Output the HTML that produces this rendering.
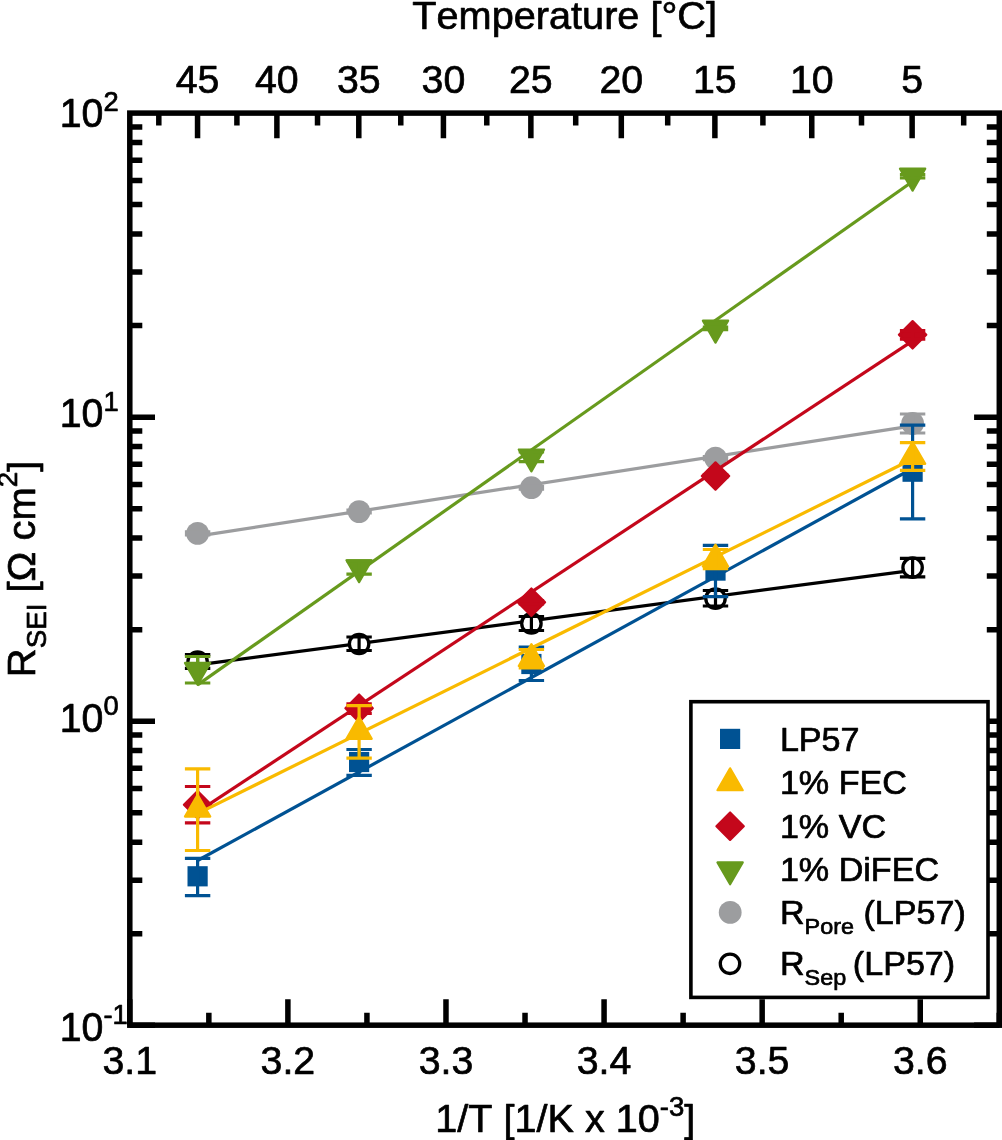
<!DOCTYPE html>
<html lang="en"><head><meta charset="utf-8"><title>R_SEI Arrhenius plot</title>
<style>html,body{margin:0;padding:0;background:#fff}svg{display:block}</style></head><body>
<svg width="1002" height="1140" viewBox="0 0 1002 1140" font-family="Liberation Sans, Arial, Helvetica, sans-serif" fill="#000">
<style>text{stroke:#000;stroke-width:0.7px;stroke-linejoin:round;font-kerning:none}</style>
<rect width="1002" height="1140" fill="#fff"/>
<path d="M129.8 1025.19v-26M208.84 1025.19v-12.5M287.89 1025.19v-26M366.93 1025.19v-12.5M445.98 1025.19v-26M525.03 1025.19v-12.5M604.07 1025.19v-26M683.12 1025.19v-12.5M762.16 1025.19v-26M841.21 1025.19v-12.5M920.25 1025.19v-26M999.3 1025.19v-12.5M158.81 113.1v12.5M197.55 113.1v25.2M236.91 113.1v12.5M276.89 113.1v25.2M317.52 113.1v12.5M358.8 113.1v25.2M400.77 113.1v12.5M443.42 113.1v25.2M486.78 113.1v12.5M530.87 113.1v25.2M575.71 113.1v12.5M621.31 113.1v25.2M667.7 113.1v12.5M714.89 113.1v25.2M762.91 113.1v12.5M811.77 113.1v25.2M861.5 113.1v12.5M912.13 113.1v25.2M963.68 113.1v12.5M129.8 1025.19h25.2M999.3 1025.19h-25.2M129.8 933.67h12.5M999.3 933.67h-12.5M129.8 880.13h12.5M999.3 880.13h-12.5M129.8 842.15h12.5M999.3 842.15h-12.5M129.8 812.68h12.5M999.3 812.68h-12.5M129.8 788.61h12.5M999.3 788.61h-12.5M129.8 768.25h12.5M999.3 768.25h-12.5M129.8 750.62h12.5M999.3 750.62h-12.5M129.8 735.07h12.5M999.3 735.07h-12.5M129.8 721.16h25.2M999.3 721.16h-25.2M129.8 629.64h12.5M999.3 629.64h-12.5M129.8 576.1h12.5M999.3 576.1h-12.5M129.8 538.12h12.5M999.3 538.12h-12.5M129.8 508.65h12.5M999.3 508.65h-12.5M129.8 484.58h12.5M999.3 484.58h-12.5M129.8 464.22h12.5M999.3 464.22h-12.5M129.8 446.59h12.5M999.3 446.59h-12.5M129.8 431.04h12.5M999.3 431.04h-12.5M129.8 417.13h25.2M999.3 417.13h-25.2M129.8 325.61h12.5M999.3 325.61h-12.5M129.8 272.07h12.5M999.3 272.07h-12.5M129.8 234.09h12.5M999.3 234.09h-12.5M129.8 204.62h12.5M999.3 204.62h-12.5M129.8 180.55h12.5M999.3 180.55h-12.5M129.8 160.19h12.5M999.3 160.19h-12.5M129.8 142.56h12.5M999.3 142.56h-12.5M129.8 127.01h12.5M999.3 127.01h-12.5" fill="none" stroke="#000" stroke-width="5.5"/>
<g>
<line x1="197.6" y1="536.1" x2="912.6" y2="425.9" stroke="#9c9d9f" stroke-width="3.2"/>
<circle cx="197.6" cy="533.4" r="11.4" fill="#9c9d9f"/>
<path d="M197.6 531.8V535M184.9 531.8H210.3M184.9 535H210.3" fill="none" stroke="#9c9d9f" stroke-width="3.2"/>
<circle cx="359.1" cy="511.6" r="11.4" fill="#9c9d9f"/>
<path d="M359.1 510.2V513M346.4 510.2H371.8M346.4 513H371.8" fill="none" stroke="#9c9d9f" stroke-width="3.2"/>
<circle cx="531.4" cy="487.7" r="11.4" fill="#9c9d9f"/>
<path d="M531.4 486.3V489.1M518.7 486.3H544.1M518.7 489.1H544.1" fill="none" stroke="#9c9d9f" stroke-width="3.2"/>
<circle cx="715.5" cy="458.1" r="11.4" fill="#9c9d9f"/>
<path d="M715.5 456.6V459.6M702.8 456.6H728.2M702.8 459.6H728.2" fill="none" stroke="#9c9d9f" stroke-width="3.2"/>
<circle cx="912.6" cy="423.4" r="11.4" fill="#9c9d9f"/>
<path d="M912.6 414V433M899.9 414H925.3M899.9 433H925.3" fill="none" stroke="#9c9d9f" stroke-width="3.2"/>
</g>
<g>
<line x1="197.6" y1="664.9" x2="912.6" y2="570.3" stroke="#000000" stroke-width="3.2"/>
<circle cx="197.6" cy="661.5" r="9.7" fill="#fff" stroke="#000000" stroke-width="3.3"/>
<path d="M197.6 654.6V668.4M184.9 654.6H210.3M184.9 668.4H210.3" fill="none" stroke="#000000" stroke-width="3.2"/>
<circle cx="359.1" cy="644" r="9.7" fill="#fff" stroke="#000000" stroke-width="3.3"/>
<path d="M359.1 637V650.5M346.4 637H371.8M346.4 650.5H371.8" fill="none" stroke="#000000" stroke-width="3.2"/>
<circle cx="531.4" cy="623.4" r="9.7" fill="#fff" stroke="#000000" stroke-width="3.3"/>
<path d="M531.4 616.5V630.5M518.7 616.5H544.1M518.7 630.5H544.1" fill="none" stroke="#000000" stroke-width="3.2"/>
<circle cx="715.5" cy="598.6" r="9.7" fill="#fff" stroke="#000000" stroke-width="3.3"/>
<path d="M715.5 590.5V606M702.8 590.5H728.2M702.8 606H728.2" fill="none" stroke="#000000" stroke-width="3.2"/>
<circle cx="912.6" cy="567.6" r="9.7" fill="#fff" stroke="#000000" stroke-width="3.3"/>
<path d="M912.6 558.4V576.8M899.9 558.4H925.3M899.9 576.8H925.3" fill="none" stroke="#000000" stroke-width="3.2"/>
</g>
<g>
<line x1="197.6" y1="860.5" x2="912.6" y2="468.5" stroke="#005293" stroke-width="3.2"/>
<rect x="187.5" y="866.2" width="20.2" height="20.2" fill="#005293"/>
<path d="M197.6 858.4V895.6M184.9 858.4H210.3M184.9 895.6H210.3" fill="none" stroke="#005293" stroke-width="3.2"/>
<rect x="349" y="751.9" width="20.2" height="20.2" fill="#005293"/>
<path d="M359.1 749.5V775.3M346.4 749.5H371.8M346.4 775.3H371.8" fill="none" stroke="#005293" stroke-width="3.2"/>
<rect x="521.3" y="653.9" width="20.2" height="20.2" fill="#005293"/>
<path d="M531.4 647.2V680.5M518.7 647.2H544.1M518.7 680.5H544.1" fill="none" stroke="#005293" stroke-width="3.2"/>
<rect x="705.4" y="560.5" width="20.2" height="20.2" fill="#005293"/>
<path d="M715.5 545.4V596.7M702.8 545.4H728.2M702.8 596.7H728.2" fill="none" stroke="#005293" stroke-width="3.2"/>
<rect x="902.5" y="461.6" width="20.2" height="20.2" fill="#005293"/>
<path d="M912.6 425.1V518.9M899.9 425.1H925.3M899.9 518.9H925.3" fill="none" stroke="#005293" stroke-width="3.2"/>
</g>
<g>
<line x1="197.6" y1="684.9" x2="912.6" y2="181.5" stroke="#679a1d" stroke-width="3.2"/>
<polygon points="184.95,662.9 210.25,662.9 197.6,684.8" fill="#679a1d" stroke="#679a1d" stroke-width="2.2" stroke-linejoin="round"/>
<path d="M197.6 656.5V683M184.9 656.5H210.3M184.9 683H210.3" fill="none" stroke="#679a1d" stroke-width="3.2"/>
<polygon points="346.45,560.3 371.75,560.3 359.1,582.2" fill="#679a1d" stroke="#679a1d" stroke-width="2.2" stroke-linejoin="round"/>
<path d="M359.1 560.8V574.2M346.4 560.8H371.8M346.4 574.2H371.8" fill="none" stroke="#679a1d" stroke-width="3.2"/>
<polygon points="518.75,449.5 544.05,449.5 531.4,471.4" fill="#679a1d" stroke="#679a1d" stroke-width="2.2" stroke-linejoin="round"/>
<path d="M531.4 452V461.6M518.7 452H544.1M518.7 461.6H544.1" fill="none" stroke="#679a1d" stroke-width="3.2"/>
<polygon points="702.85,320.7 728.15,320.7 715.5,342.6" fill="#679a1d" stroke="#679a1d" stroke-width="2.2" stroke-linejoin="round"/>
<path d="M715.5 327V329.6M702.8 327H728.2M702.8 329.6H728.2" fill="none" stroke="#679a1d" stroke-width="3.2"/>
<polygon points="899.95,168.7 925.25,168.7 912.6,190.6" fill="#679a1d" stroke="#679a1d" stroke-width="2.2" stroke-linejoin="round"/>
<path d="M912.6 174.6V178M899.9 174.6H925.3M899.9 178H925.3" fill="none" stroke="#679a1d" stroke-width="3.2"/>
</g>
<g>
<line x1="197.6" y1="811.9" x2="912.6" y2="340.9" stroke="#c4071b" stroke-width="3.2"/>
<polygon points="197.6,791.1 211.3,804.8 197.6,818.5 183.9,804.8" fill="#c4071b" stroke="#c4071b" stroke-width="2.2" stroke-linejoin="round"/>
<path d="M197.6 786.5V822.8M184.9 786.5H210.3M184.9 822.8H210.3" fill="none" stroke="#c4071b" stroke-width="3.2"/>
<polygon points="359.1,694.5 372.8,708.2 359.1,721.9 345.4,708.2" fill="#c4071b" stroke="#c4071b" stroke-width="2.2" stroke-linejoin="round"/>
<path d="M359.1 703.8V713.4M346.4 703.8H371.8M346.4 713.4H371.8" fill="none" stroke="#c4071b" stroke-width="3.2"/>
<polygon points="531.4,588.5 545.1,602.2 531.4,615.9 517.7,602.2" fill="#c4071b" stroke="#c4071b" stroke-width="2.2" stroke-linejoin="round"/>
<path d="M531.4 600.5V604M518.7 600.5H544.1M518.7 604H544.1" fill="none" stroke="#c4071b" stroke-width="3.2"/>
<polygon points="715.5,462.3 729.2,476 715.5,489.7 701.8,476" fill="#c4071b" stroke="#c4071b" stroke-width="2.2" stroke-linejoin="round"/>
<path d="M715.5 474.5V477.5M702.8 474.5H728.2M702.8 477.5H728.2" fill="none" stroke="#c4071b" stroke-width="3.2"/>
<polygon points="912.6,321.1 926.3,334.8 912.6,348.5 898.9,334.8" fill="#c4071b" stroke="#c4071b" stroke-width="2.2" stroke-linejoin="round"/>
<path d="M912.6 330.6V339.1M899.9 330.6H925.3M899.9 339.1H925.3" fill="none" stroke="#c4071b" stroke-width="3.2"/>
</g>
<g>
<line x1="197.6" y1="813.6" x2="912.6" y2="459" stroke="#f9ba00" stroke-width="3.2"/>
<polygon points="197.6,794.7 210.25,816.6 184.95,816.6" fill="#f9ba00" stroke="#f9ba00" stroke-width="2.2" stroke-linejoin="round"/>
<path d="M197.6 768.9V850.5M184.9 768.9H210.3M184.9 850.5H210.3" fill="none" stroke="#f9ba00" stroke-width="3.2"/>
<polygon points="359.1,716.9 371.75,738.8 346.45,738.8" fill="#f9ba00" stroke="#f9ba00" stroke-width="2.2" stroke-linejoin="round"/>
<path d="M359.1 705.6V758.2M346.4 705.6H371.8M346.4 758.2H371.8" fill="none" stroke="#f9ba00" stroke-width="3.2"/>
<polygon points="531.4,644.1 544.05,666 518.75,666" fill="#f9ba00" stroke="#f9ba00" stroke-width="2.2" stroke-linejoin="round"/>
<path d="M531.4 649.5V668M518.7 649.5H544.1M518.7 668H544.1" fill="none" stroke="#f9ba00" stroke-width="3.2"/>
<polygon points="715.5,544.6 728.15,566.5 702.85,566.5" fill="#f9ba00" stroke="#f9ba00" stroke-width="2.2" stroke-linejoin="round"/>
<path d="M715.5 549.5V568.6M702.8 549.5H728.2M702.8 568.6H728.2" fill="none" stroke="#f9ba00" stroke-width="3.2"/>
<polygon points="912.6,442 925.25,463.9 899.95,463.9" fill="#f9ba00" stroke="#f9ba00" stroke-width="2.2" stroke-linejoin="round"/>
<path d="M912.6 442.6V470.4M899.9 442.6H925.3M899.9 470.4H925.3" fill="none" stroke="#f9ba00" stroke-width="3.2"/>
</g>
<rect x="690.9" y="701.7" width="297.1" height="295.7" fill="#fff" stroke="#000" stroke-width="3.6"/>
<rect x="720" y="728.8" width="20.2" height="20.2" fill="#005293"/>
<polygon points="730.1,768.3 742.75,790.2 717.45,790.2" fill="#f9ba00" stroke="#f9ba00" stroke-width="2.2" stroke-linejoin="round"/>
<polygon points="730.1,812.5 743.8,826.2 730.1,839.9 716.4,826.2" fill="#c4071b" stroke="#c4071b" stroke-width="2.2" stroke-linejoin="round"/>
<polygon points="717.45,862.4 742.75,862.4 730.1,884.3" fill="#679a1d" stroke="#679a1d" stroke-width="2.2" stroke-linejoin="round"/>
<circle cx="730.2" cy="912.4" r="11.4" fill="#9c9d9f"/>
<circle cx="730" cy="963.8" r="9.7" fill="#fff" stroke="#000000" stroke-width="3.3"/>
<g font-size="32.8">
<text transform="translate(779.9 750.9) scale(1.04 1)">LP57</text>
<text transform="translate(779.9 794.2) scale(1.04 1)">1% FEC</text>
<text transform="translate(779.9 837.5) scale(1.04 1)">1% VC</text>
<text transform="translate(779.9 880.8) scale(1.04 1)">1% DiFEC</text>
<text transform="translate(779.9 924.0) scale(1.04 1)">R<tspan font-size="22.5" dy="9.6">Pore</tspan><tspan dy="-9.6" dx="0"> (LP57)</tspan></text>
<text transform="translate(779.9 975.3) scale(1.04 1)">R<tspan font-size="22.5" dy="9.6">Sep</tspan><tspan dy="-9.6" dx="-2.7"> (LP57)</tspan></text>
</g>
<rect x="129.8" y="113.1" width="869.5" height="912.09" fill="none" stroke="#000" stroke-width="5.5"/>
<g font-size="39.3" text-anchor="middle">
<text x="129.8" y="1073.6">3.1</text>
<text x="287.89" y="1073.6">3.2</text>
<text x="445.98" y="1073.6">3.3</text>
<text x="604.07" y="1073.6">3.4</text>
<text x="762.16" y="1073.6">3.5</text>
<text x="920.25" y="1073.6">3.6</text>
<text x="197.55" y="93.2">45</text>
<text x="276.89" y="93.2">40</text>
<text x="358.8" y="93.2">35</text>
<text x="443.42" y="93.2">30</text>
<text x="530.87" y="93.2">25</text>
<text x="621.31" y="93.2">20</text>
<text x="714.89" y="93.2">15</text>
<text x="811.77" y="93.2">10</text>
<text x="912.13" y="93.2">5</text>
</g>
<g font-size="39.3">
<text transform="translate(59.7 127.3) scale(1 1.04)">10<tspan font-size="27.3" dy="-15.8">2</tspan></text>
<text transform="translate(59.7 427.3) scale(1 1.04)">10<tspan font-size="27.3" dy="-15.8">1</tspan></text>
<text transform="translate(59.7 731.7) scale(1 1.04)">10<tspan font-size="27.3" dy="-15.8">0</tspan></text>
<text transform="translate(59.7 1040.9) scale(1 1.04)">10<tspan font-size="27.3" dy="-15.8">-1</tspan></text>
</g>
<g font-size="39.3">
<text transform="translate(412.3 28.8) scale(1.0097 1)">Temperature [°C]</text>
<text transform="translate(435.3 1131.8) scale(1.008 1)">1/T [1/K x 10<tspan font-size="27.3" dy="-15.6">-3</tspan><tspan dy="15.6">]</tspan></text>
<text transform="translate(35.1 677.2) rotate(-90) scale(1.017 1)">R<tspan font-size="27.3" dy="10.7">SEI</tspan><tspan dy="-10.7"> [Ω cm</tspan><tspan font-size="27.3" dy="-18">2</tspan><tspan dy="18">]</tspan></text>
</g>
</svg></body></html>
